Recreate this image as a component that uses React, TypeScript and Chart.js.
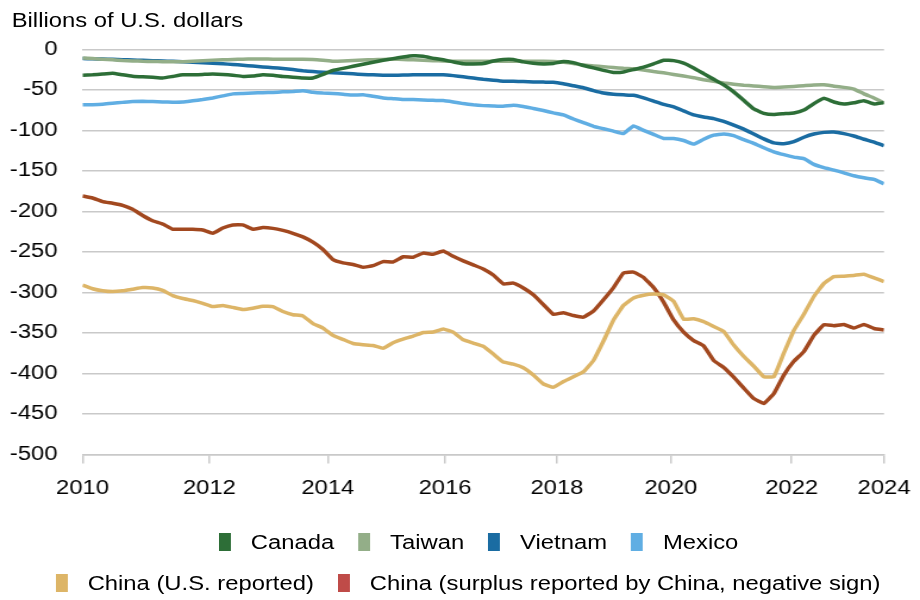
import React, { useEffect, useRef } from 'react';
import { Chart, registerables } from 'chart.js';

Chart.register(...registerables);

// The reference is drawn horizontally stretched; reproduce by scaling a narrower page.
const INNER_W = 773;
const STRETCH = 920 / INNER_W;
const FONT = "'Liberation Sans', Arial, Helvetica, sans-serif";

// x = sample index along the time axis (81 samples from 2010 to 2024)
const sampleIndex = Array.from({ length: 81 }, (_, i) => i);
const yearTickPositions = [0, 12.66, 24.48, 36.18, 47.36, 58.73, 70.78, 80];
const yearTickLabels = ['2010', '2012', '2014', '2016', '2018', '2020', '2022', '2024'];
const yMin = -500;
const yMax = 0;
const yStep = 50;

const canada = [
  -32, -31.5, -30.5, -29.6, -31.5, -33.2, -34, -34.5, -35.4, -33.5,
  -31.5, -31.5, -31, -30.5, -31, -32, -33.5, -33, -31.3, -32,
  -33.5, -34.5, -35.4, -35.4, -31, -26, -23.5, -21, -18.5, -16,
  -13.5, -11.5, -9.5, -8, -8.5, -11, -13, -15.5, -17.8, -18,
  -17.5, -14.5, -12.5, -12.5, -15.5, -17.3, -18, -17.5, -15, -16.5,
  -20, -23, -26, -28.5, -28, -25, -22, -18, -13.5, -14,
  -17, -23, -30, -37, -44, -52.5, -63, -73.5, -79, -80.5,
  -79.5, -78.5, -75, -67, -60.5, -65, -67.5, -66, -63.5, -67.5, -65.8,
];
const taiwan = [
  -10.7, -11.5, -12.3, -13, -13.8, -14.3, -14.8, -15, -15.3, -15.5,
  -15.3, -14.8, -14.2, -13.5, -13, -12.6, -12.2, -12, -12, -12.2,
  -12.3, -12.3, -12.3, -12.5, -13.5, -14.8, -14.5, -13.8, -13.3, -12.8,
  -12.5, -12.3, -12.5, -13, -13.5, -14, -14.5, -14.8, -14.8, -14.8,
  -14.8, -14.8, -14.8, -14.8, -14.8, -14.8, -14.8, -15, -16, -17.5,
  -19.5, -20.5, -21.5, -22.5, -23.5, -24, -25.5, -27.5, -29, -31,
  -33, -35, -37.5, -39.5, -41.5, -43, -44.4, -45.2, -46.2, -47,
  -46.5, -45.8, -44.9, -44, -43.8, -45.5, -47, -49, -55, -60, -66.3,
];
const vietnam = [
  -11.5, -11.8, -12.1, -12.4, -12.8, -13.2, -13.6, -14, -14.4, -14.8,
  -15.4, -16, -16.6, -17.3, -17.9, -18.7, -19.7, -20.7, -21.7, -22.7,
  -23.7, -25, -26.5, -27.5, -28.3, -29, -29.7, -30.3, -31, -31.5,
  -32, -32, -31.8, -31.5, -31.3, -31.3, -31.3, -32.5, -34, -35.5,
  -37, -38.2, -39.3, -39.5, -39.8, -40.2, -40.5, -40.7, -42.5, -45,
  -47.5, -51, -54, -55.5, -56.2, -56.8, -60, -64, -68, -71,
  -76, -81, -83.5, -85.5, -89, -93.5, -98.5, -104.5, -110.5, -115.5,
  -116.5, -114, -108.5, -104.5, -102.5, -102, -104, -107, -111, -114.5, -119,
];
const mexico = [
  -68.5, -68.3, -67.8, -66.5, -65.5, -64.5, -64.2, -64.5, -65, -65.2,
  -65, -63.5, -62, -60, -57.5, -55, -54.5, -54, -53.5, -53.2,
  -52.5, -52, -51, -53, -54, -54.5, -55.5, -56.5, -56, -58,
  -60, -61, -62, -62, -62.5, -63, -63.3, -65, -67, -68.5,
  -69.5, -70, -70.4, -69, -70.5, -73, -75.5, -78.5, -81, -86,
  -90.5, -95, -98, -101, -104, -94.5, -100, -105, -110, -110,
  -112.5, -117, -111, -106, -104.5, -106.5, -111.5, -116, -121.5, -126.5,
  -130, -133, -135, -142, -146, -149, -152.5, -156, -158.5, -160.5, -166,
];
const chinaUS = [
  -291, -295.5, -298, -299, -298, -296, -294, -294.5, -297.5, -304,
  -307.5, -310, -313.5, -317.5, -316, -318.5, -321, -319.5, -317, -317.5,
  -323.5, -327.5, -329, -338.5, -344, -353, -358, -363, -364.5, -365.5,
  -369, -362, -357.5, -354, -349.5, -348.8, -345, -349, -358.5, -362.5,
  -366.5, -376, -386, -388.5, -393, -402, -413, -417, -410, -404,
  -398, -384, -360, -334, -316, -307, -303.5, -302, -303, -311,
  -333, -332.5, -336, -342, -348, -365, -379, -391, -404, -404,
  -375, -347, -327, -305, -289, -280.5, -280, -279, -277.5, -282, -286.6,
];
const chinaSurplus = [
  -181, -183.5, -188, -190, -192.5, -197.5, -205, -211.5, -215.5, -222,
  -222, -222, -223, -227, -220.5, -216.7, -216.7, -222, -220, -221,
  -223.5, -227, -231.5, -238, -247, -259.5, -263.5, -265.5, -269, -267,
  -262, -262.5, -256, -256.5, -251.5, -253, -249, -255.5, -261, -266,
  -271, -278.5, -289.5, -288.5, -294.5, -303, -315, -327, -325, -328.5,
  -330.5, -323, -309, -294, -276, -275, -281.5, -294, -312, -334,
  -349, -359.5, -366, -384, -392.5, -404.5, -418, -431, -437, -425,
  -402, -385, -373, -353, -340, -341, -339.5, -344, -339.5, -344.5, -346.3,
];

const seriesNames = [
  'Canada',
  'Taiwan',
  'Vietnam',
  'Mexico',
  'China (U.S. reported)',
  'China (surplus reported by China, negative sign)',
];
const lineColors = ['#2D6E37', '#93AE88', '#1A6CA2', '#60AEE3', '#DDB567', '#A2481F'];
const legendColors = ['#2D6E37', '#93AE88', '#1A6CA2', '#60AEE3', '#DDB567', '#BF4B48'];
const legendRows = [[0, 1, 2, 3], [4, 5]];

const GRID = '#c9c9c9';

function LegendRow({ items, center, top }: { items: number[]; center: number; top: number }) {
  return (
    <div
      style={{
        position: 'absolute',
        left: center - 400,
        width: 800,
        top,
        height: 24,
        display: 'flex',
        justifyContent: 'center',
        alignItems: 'center',
      }}
    >
      {items.map((i) => (
        <div key={i} style={{ display: 'flex', alignItems: 'center', margin: '0 10px' }}>
          <span
            style={{
              display: 'inline-block',
              width: 10,
              height: 18,
              background: legendColors[i],
              marginRight: 17,
            }}
          />
          <span style={{ fontSize: 20, lineHeight: '24px', whiteSpace: 'nowrap' }}>{seriesNames[i]}</span>
        </div>
      ))}
    </div>
  );
}

export default function App() {
  const canvasRef = useRef<HTMLCanvasElement>(null);

  useEffect(() => {
    const prevMargin = document.body.style.margin;
    document.body.style.margin = '0';
    const series = [canada, taiwan, vietnam, mexico, chinaUS, chinaSurplus];
    const chart = new Chart(canvasRef.current as HTMLCanvasElement, {
      type: 'line',
      data: {
        datasets: series.map((vals, i) => ({
          label: seriesNames[i],
          data: vals.map((v, j) => ({ x: sampleIndex[j], y: v })),
          borderColor: lineColors[i],
          backgroundColor: legendColors[i],
          borderWidth: 3.5,
          pointRadius: 0,
          pointHoverRadius: 0,
          tension: 0.1,
          fill: false,
        })),
      },
      options: {
        animation: false,
        responsive: false,
        devicePixelRatio: 1,
        layout: { padding: { top: 49.3, right: INNER_W - 884 / STRETCH, left: 0, bottom: 0 } },
        plugins: {
          legend: { display: false },
          tooltip: { enabled: false },
          title: { display: false },
        },
        scales: {
          x: {
            type: 'linear',
            min: sampleIndex[0],
            max: sampleIndex[sampleIndex.length - 1],
            afterBuildTicks: (scale: any) => {
              scale.ticks = yearTickPositions.map((v) => ({ value: v }));
            },
            afterFit: (scale: any) => {
              scale.height = 600 - 454.5;
              scale.paddingLeft = 0;
              scale.paddingRight = 0;
            },
            ticks: {
              autoSkip: false,
              maxRotation: 0,
              minRotation: 0,
              padding: 13,
              color: '#000',
              font: { family: FONT, size: 20 },
              callback: (_v: any, index: number) => yearTickLabels[index],
            },
            grid: {
              drawOnChartArea: false,
              drawTicks: true,
              tickLength: 9,
              color: GRID,
              lineWidth: 1.5,
            },
            border: { display: true, color: GRID, width: 1.5 },
          },
          y: {
            min: yMin,
            max: yMax,
            afterFit: (scale: any) => {
              scale.width = 82.5 / STRETCH;
            },
            ticks: {
              stepSize: yStep,
              padding: 21,
              color: '#000',
              font: { family: FONT, size: 20 },
            },
            grid: { color: GRID, lineWidth: 1.5, drawTicks: false },
            border: { display: false },
          },
        },
      },
    });
    return () => {
      chart.destroy();
      document.body.style.margin = prevMargin;
    };
  }, []);

  return (
    <div
      style={{
        width: INNER_W,
        height: 600,
        position: 'relative',
        transform: `scaleX(${STRETCH})`,
        transformOrigin: '0 0',
        fontFamily: FONT,
        color: '#000',
        overflow: 'hidden',
        background: '#fff',
      }}
    >
      <div style={{ position: 'absolute', left: 0, top: 0, width: INNER_W, height: 600 }}>
        <canvas
          ref={canvasRef}
          width={INNER_W}
          height={600}
          style={{ display: 'block', width: INNER_W, height: 600 }}
        />
      </div>
      <div
        style={{
          position: 'absolute',
          left: 11.7 / STRETCH,
          top: 8,
          fontSize: 20,
          lineHeight: '24px',
          whiteSpace: 'nowrap',
        }}
      >
        Billions of U.S. dollars
      </div>
      <LegendRow items={legendRows[0]} center={478.5 / STRETCH} top={530} />
      <LegendRow items={legendRows[1]} center={468 / STRETCH} top={570.5} />
    </div>
  );
}
